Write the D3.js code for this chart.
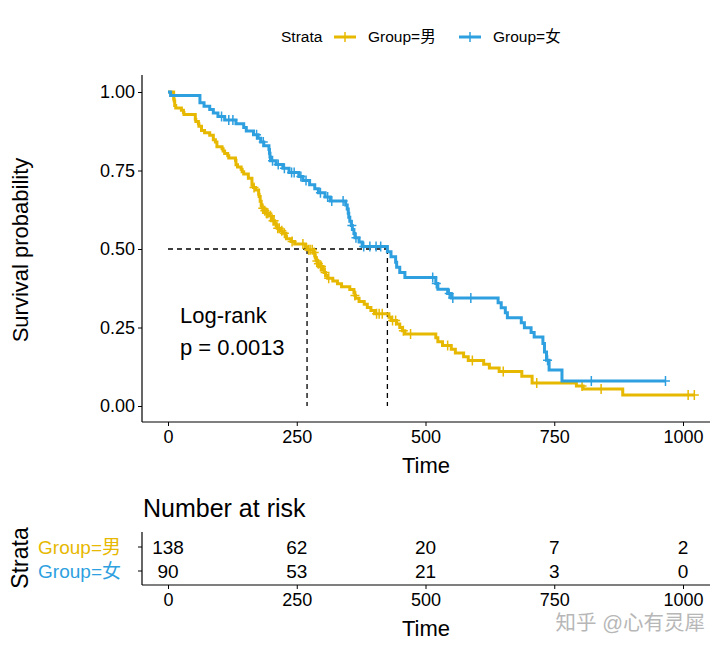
<!DOCTYPE html>
<html>
<head>
<meta charset="utf-8">
<script src="https://cdn.jsdelivr.net/npm/d3@7"></script>
<style>
  body { margin: 0; background: #fff; }
  svg text { font-family: "Liberation Sans", Arial, "Noto Sans CJK SC", sans-serif; }
</style>
</head>
<body>
<svg id="chart" width="720" height="650"></svg>
<script>
// step points [time, survival]
var maleSteps = [
  [0,1],[11,.978],[12,.971],[13,.957],[15,.949],[26,.942],[30,.935],[31,.928],[53,.913],[54,.906],
  [59,.899],[60,.891],[65,.877],[71,.870],[81,.862],[88,.848],[92,.841],[95,.826],[105,.819],[107,.812],
  [110,.804],[116,.797],[118,.790],[131,.783],[132,.768],[135,.761],[142,.754],[144,.746],[147,.739],[156,.725],
  [163,.703],[166,.696],[170,.688],[176,.674],[177,.667],[179,.652],[181,.637],[183,.630],[186,.622],[189,.614],
  [197,.606],[201,.590],[207,.582],[210,.574],[212,.566],[218,.558],[222,.550],[229,.541],[230,.533],[239,.524],
  [246,.516],[267,.507],[270,.498],[283,.489],[285,.480],[286,.471],[288,.462],[291,.453],[293,.444],[301,.434],
  [303,.425],[306,.416],[310,.407],[320,.398],[329,.389],[337,.380],[353,.371],[361,.361],[363,.352],[364,.343],
  [371,.333],[381,.324],[387,.314],[394,.304],[401,.294],[429,.283],[433,.272],[444,.261],[450,.250],[455,.240],
  [460,.229],[520,.217],[524,.205],[533,.193],[550,.181],[558,.169],[574,.157],[583,.145],[613,.133],[624,.121],
  [643,.110],[687,.095],[707,.073],[793,.064],[806,.054],[883,.035]
];
var femaleSteps = [
  [0,1],[5,.989],[62,.966],[70,.955],[81,.944],[88,.933],[97,.922],[110,.911],[132,.899],[147,.887],
  [152,.876],[166,.864],[175,.853],[180,.841],[186,.829],[196,.817],[197,.805],[198,.793],[199,.781],[210,.769],
  [223,.757],[235,.744],[254,.731],[262,.718],[275,.705],[285,.692],[292,.679],[305,.666],[315,.653],[345,.640],
  [348,.627],[350,.614],[351,.601],[353,.588],[356,.575],[358,.562],[361,.549],[363,.536],[371,.522],[377,.508],
  [426,.491],[433,.475],[442,.458],[444,.442],[450,.425],[460,.409],[520,.390],[524,.372],[543,.358],[550,.344],
  [641,.329],[647,.313],[655,.297],[659,.281],[686,.265],[692,.249],[705,.234],[711,.220],[728,.199],[731,.172],
  [735,.146],[740,.115],[765,.080]
];
// censoring times
var maleCensor = [167,184,188,191,192,194,199,204,206,213,216,221,226,241,262,273,276,280,284,289,
  292,296,298,305,312,363,405,410,416,436,442,457,471,543,591,651,716,804,841,1010,1022];
var femaleCensor = [104,118,126,172,185,203,214,226,240,245,258,268,296,310,318,340,357,365,380,392,
  404,413,514,521,546,553,588,737,822,966];
var medians = [270, 426];
var groupNames = ["Group=男", "Group=女"];
var colors = ["#E7B800", "#2E9FDF"];
var xTicks = [0, 250, 500, 750, 1000];
var yTicks = [0, 0.25, 0.5, 0.75, 1];
var riskTimes = [0, 250, 500, 750, 1000];
var riskMale = [138, 62, 20, 7, 2];
var riskFemale = [90, 53, 21, 3, 0];

var svg = d3.select("#chart");

var x = d3.scaleLinear().domain([0, 1000]).range([168, 683]);
var y = d3.scaleLinear().domain([0, 1]).range([406, 92]);
var panelLeft = 142, panelRight = 710, panelTop = 75, panelBottom = 422;

function survAt(steps, t) {
  var s = 1;
  for (var i = 0; i < steps.length; i++) {
    if (steps[i][0] <= t) s = steps[i][1];
  }
  return s;
}

// ---- legend
var lg = svg.append("g").attr("class", "legend");
lg.append("text").attr("x", 281).attr("y", 42).attr("font-size", 15.5).text("Strata");
var legX = [334, 459];
var legTextX = [368, 493];
groupNames.forEach(function(name, i) {
  lg.append("line").attr("x1", legX[i]).attr("x2", legX[i] + 22)
    .attr("y1", 37).attr("y2", 37).attr("stroke", colors[i]).attr("stroke-width", 3);
  lg.append("line").attr("x1", legX[i] + 11).attr("x2", legX[i] + 11)
    .attr("y1", 32).attr("y2", 42).attr("stroke", colors[i]).attr("stroke-width", 1.5);
  lg.append("text").attr("x", legTextX[i]).attr("y", 42).attr("font-size", 15.5).text(name);
});

// ---- main panel axes
var gx = svg.append("g").attr("transform", "translate(0," + panelBottom + ")")
  .call(d3.axisBottom(x).tickValues(xTicks).tickFormat(d3.format("d")).tickSize(4).tickSizeOuter(0));
gx.select(".domain").remove();
gx.selectAll("text").attr("font-size", 18).attr("fill", "#000").attr("dy", "0.8em");
gx.selectAll("line").attr("stroke", "#000");
var gy = svg.append("g").attr("transform", "translate(" + panelLeft + ",0)")
  .call(d3.axisLeft(y).tickValues(yTicks).tickFormat(d3.format(".2f")).tickSize(4).tickSizeOuter(0));
gy.select(".domain").remove();
gy.selectAll("text").attr("font-size", 18).attr("fill", "#000");
gy.selectAll("line").attr("stroke", "#000");
svg.append("line").attr("x1", panelLeft).attr("x2", panelRight)
  .attr("y1", panelBottom).attr("y2", panelBottom)
  .attr("stroke", "#000").attr("stroke-width", 1.2);
svg.append("line").attr("x1", panelLeft).attr("x2", panelLeft)
  .attr("y1", panelTop).attr("y2", panelBottom)
  .attr("stroke", "#000").attr("stroke-width", 1.2);

svg.append("text").attr("x", 426).attr("y", 473).attr("text-anchor", "middle")
  .attr("font-size", 22).text("Time");
svg.append("text").attr("transform", "translate(28,250) rotate(-90)")
  .attr("text-anchor", "middle").attr("font-size", 22).text("Survival probability");

// ---- median lines
var dash = svg.append("g").attr("stroke", "#000").attr("stroke-width", 1.3)
  .attr("stroke-dasharray", "5,4").attr("fill", "none");
dash.append("line").attr("x1", x(0)).attr("x2", x(medians[1]))
  .attr("y1", y(0.5)).attr("y2", y(0.5));
medians.forEach(function(m) {
  dash.append("line").attr("x1", x(m)).attr("x2", x(m)).attr("y1", y(0.5)).attr("y2", y(0));
});

// ---- curves
var line = d3.line().curve(d3.curveStepAfter)
  .x(function(d) { return x(d[0]); })
  .y(function(d) { return y(d[1]); });

var groups = [
  { steps: maleSteps, censor: maleCensor },
  { steps: femaleSteps, censor: femaleCensor }
];
groups.forEach(function(g, i) {
  var lastT = d3.max(g.censor);
  var pts = g.steps.concat([[lastT, g.steps[g.steps.length - 1][1]]]);
  svg.append("path").attr("d", line(pts)).attr("fill", "none")
    .attr("stroke", colors[i]).attr("stroke-width", 3);
  svg.append("g").selectAll("path.cens")
    .data(g.censor)
    .enter().append("path")
      .attr("class", "cens")
      .attr("d", function(t) {
        var cx = x(t), cy = y(survAt(g.steps, t));
        return "M" + (cx - 4.5) + "," + cy + "H" + (cx + 4.5) +
               "M" + cx + "," + (cy - 5) + "V" + (cy + 5);
      })
      .attr("stroke", colors[i]).attr("stroke-width", 1.5);
});

// ---- p value
svg.append("text").attr("x", 180).attr("y", 323).attr("font-size", 22).text("Log-rank");
svg.append("text").attr("x", 180).attr("y", 355).attr("font-size", 22).text("p = 0.0013");

// ---- risk table
var tTop = 532, tBottom = 585;
var rowY = [547, 571];
svg.append("text").attr("x", 143).attr("y", 517).attr("font-size", 25).text("Number at risk");
var tx = svg.append("g").attr("transform", "translate(0," + tBottom + ")")
  .call(d3.axisBottom(x).tickValues(riskTimes).tickFormat(d3.format("d")).tickSize(4).tickSizeOuter(0));
tx.select(".domain").remove();
tx.selectAll("text").attr("font-size", 18).attr("fill", "#000").attr("dy", "0.8em");
tx.selectAll("line").attr("stroke", "#000");
svg.append("line").attr("x1", panelLeft).attr("x2", panelRight).attr("y1", tBottom).attr("y2", tBottom)
  .attr("stroke", "#000").attr("stroke-width", 1.2);
svg.append("line").attr("x1", panelLeft).attr("x2", panelLeft).attr("y1", tTop).attr("y2", tBottom)
  .attr("stroke", "#000").attr("stroke-width", 1.2);
[riskMale, riskFemale].forEach(function(row, i) {
  svg.append("line").attr("x1", panelLeft - 4).attr("x2", panelLeft).attr("y1", rowY[i]).attr("y2", rowY[i])
    .attr("stroke", "#000");
  svg.append("text").attr("x", 121).attr("y", rowY[i]).attr("dy", "0.35em")
    .attr("text-anchor", "end").attr("font-size", 19).attr("fill", colors[i]).text(groupNames[i]);
  svg.append("g").selectAll("text")
    .data(row)
    .enter().append("text")
      .attr("x", function(d, j) { return x(riskTimes[j]); })
      .attr("y", rowY[i]).attr("dy", "0.35em")
      .attr("text-anchor", "middle").attr("font-size", 19)
      .text(function(d) { return d; });
});
svg.append("text").attr("x", 426).attr("y", 636).attr("text-anchor", "middle")
  .attr("font-size", 22).text("Time");
svg.append("text").attr("transform", "translate(28,558) rotate(-90)")
  .attr("text-anchor", "middle").attr("font-size", 23).text("Strata");

// watermark
svg.append("text").attr("x", 705).attr("y", 630).attr("text-anchor", "end")
  .attr("font-size", 20.5).attr("fill", "#b0b0b0").attr("opacity", 0.9).text("知乎 @心有灵犀");
</script>
</body>
</html>
